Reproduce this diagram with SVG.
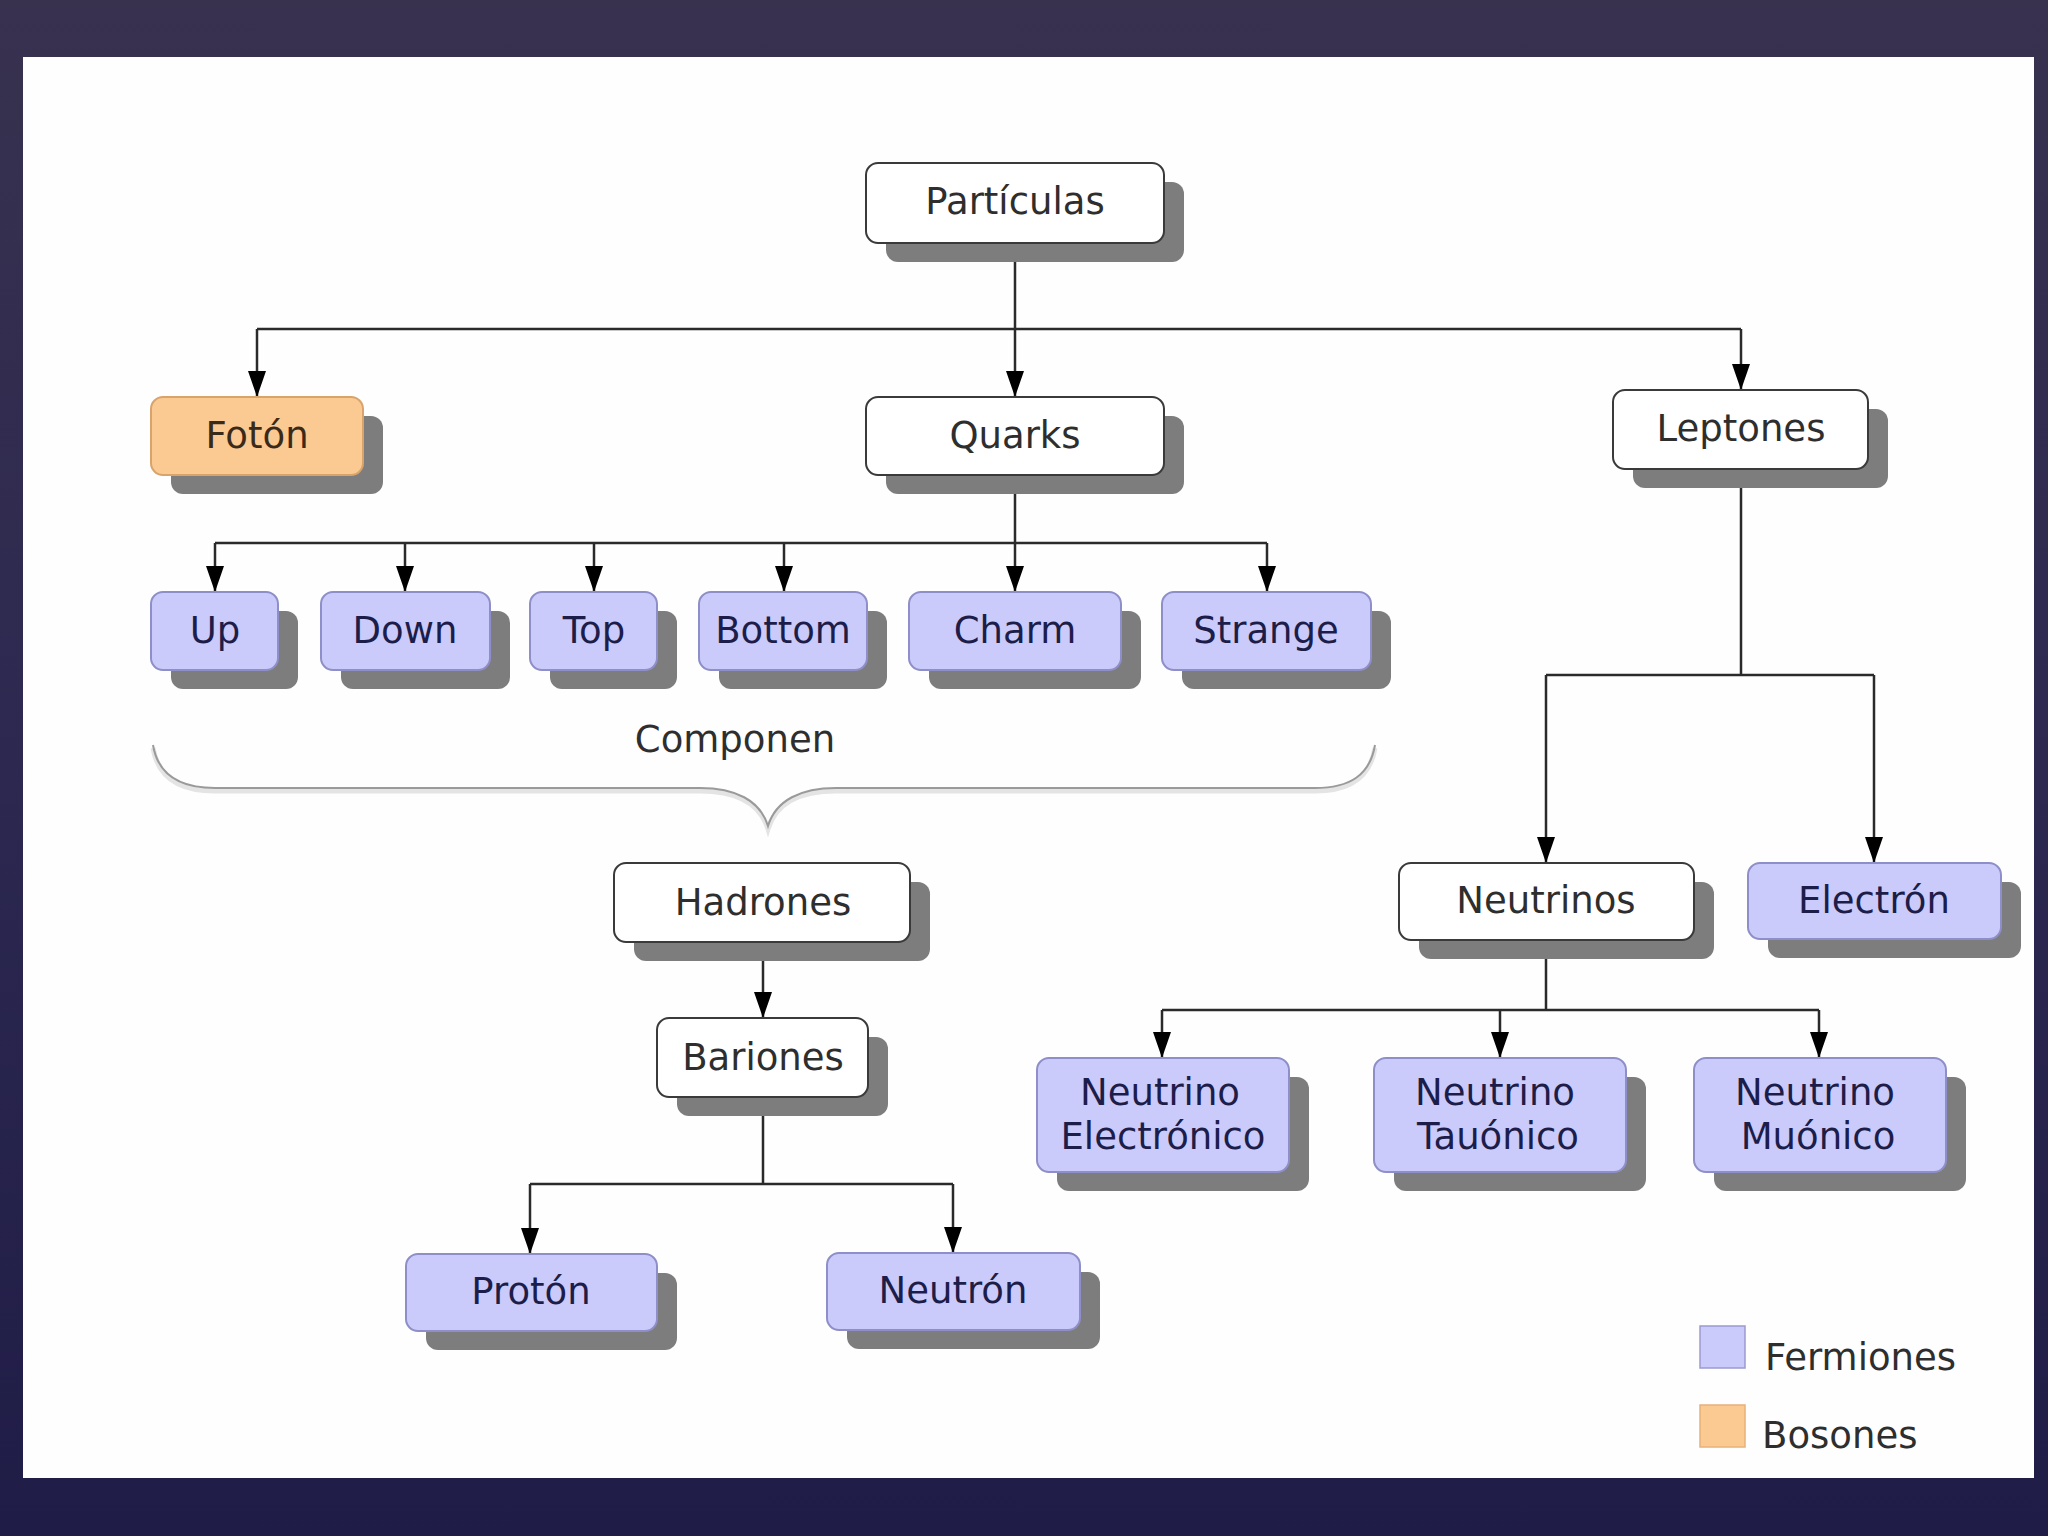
<svg xmlns="http://www.w3.org/2000/svg" width="2048" height="1536" viewBox="0 0 2048 1536">
<defs>
<linearGradient id="bg" x1="0" y1="0" x2="0" y2="1">
<stop offset="0" stop-color="#38324f"/>
<stop offset="0.5" stop-color="#2c2850"/>
<stop offset="1" stop-color="#1f1c47"/>
</linearGradient>
<marker id="arr" viewBox="0 0 26 18" refX="26" refY="9" markerWidth="26" markerHeight="18" markerUnits="userSpaceOnUse" orient="auto">
<path d="M0,0 L26,9 L0,18 Z" fill="#000"/>
</marker>
</defs>
<style>
.sh{fill:#7d7d7d}
.w{fill:#ffffff;stroke:#3a3a3a;stroke-width:2}
.f{fill:#cbcbfb;stroke:#8e8ec8;stroke-width:2}
.b{fill:#fbc992;stroke:#d9a46b;stroke-width:2}
text{font-family:"DejaVu Sans","Liberation Sans",sans-serif;font-size:37px;text-anchor:middle}
.tw{fill:#2e2e2e}
.tf{fill:#1d1d4a}
.tb{fill:#3a2a1a}
.c{fill:none;stroke:#2a2a2a;stroke-width:2.5}
.ca{fill:none;stroke:#2a2a2a;stroke-width:2.5;marker-end:url(#arr)}
</style>
<rect x="0" y="0" width="2048" height="1536" fill="url(#bg)"/>
<rect x="23" y="57" width="2011" height="1421" fill="#fefefe"/>

<g id="connectors">
<path class="c" d="M1015,243 V329 M257,329 H1741"/>
<path class="ca" d="M257,329 V397"/>
<path class="ca" d="M1015,329 V397"/>
<path class="ca" d="M1741,329 V390"/>
<path class="c" d="M1015,475 V543 M215,543 H1267"/>
<path class="ca" d="M215,543 V592"/>
<path class="ca" d="M405,543 V592"/>
<path class="ca" d="M594,543 V592"/>
<path class="ca" d="M784,543 V592"/>
<path class="ca" d="M1015,543 V592"/>
<path class="ca" d="M1267,543 V592"/>
<path class="c" d="M1741,469 V675 M1546,675 H1874"/>
<path class="ca" d="M1546,675 V863"/>
<path class="ca" d="M1874,675 V863"/>
<path class="ca" d="M763,942 V1018"/>
<path class="c" d="M763,1097 V1184 M530,1184 H953"/>
<path class="ca" d="M530,1184 V1254"/>
<path class="ca" d="M953,1184 V1253"/>
<path class="c" d="M1546,940 V1010 M1162,1010 H1819"/>
<path class="ca" d="M1162,1010 V1058"/>
<path class="ca" d="M1500,1010 V1058"/>
<path class="ca" d="M1819,1010 V1058"/>
</g>

<g id="brace">
<path d="M153,745 C158,775 180,788 215,788 L700,788 C735,788 760,800 768,826 C776,800 801,788 836,788 L1315,788 C1350,788 1370,775 1375,745" fill="none" stroke="#e4e4e4" stroke-width="5" transform="translate(0,3)"/>
<path d="M153,745 C158,775 180,788 215,788 L700,788 C735,788 760,800 768,826 C776,800 801,788 836,788 L1315,788 C1350,788 1370,775 1375,745" fill="none" stroke="#9a9a9a" stroke-width="2"/>
<text class="tw" x="735" y="752">Componen</text>
</g>

<g id="particulas"><rect class="sh" x="886" y="182" width="298" height="80" rx="12"/><rect class="w" x="866" y="163" width="298" height="80" rx="12"/><text class="tw" x="1015" y="214">Partículas</text></g>
<g id="foton"><rect class="sh" x="171" y="416" width="212" height="78" rx="12"/><rect class="b" x="151" y="397" width="212" height="78" rx="12"/><text class="tb" x="257" y="448">Fotón</text></g>
<g id="quarks"><rect class="sh" x="886" y="416" width="298" height="78" rx="12"/><rect class="w" x="866" y="397" width="298" height="78" rx="12"/><text class="tw" x="1015" y="448">Quarks</text></g>
<g id="leptones"><rect class="sh" x="1633" y="409" width="255" height="79" rx="12"/><rect class="w" x="1613" y="390" width="255" height="79" rx="12"/><text class="tw" x="1741" y="441">Leptones</text></g>

<g id="up"><rect class="sh" x="171" y="611" width="127" height="78" rx="12"/><rect class="f" x="151" y="592" width="127" height="78" rx="12"/><text class="tf" x="215" y="643">Up</text></g>
<g id="down"><rect class="sh" x="341" y="611" width="169" height="78" rx="12"/><rect class="f" x="321" y="592" width="169" height="78" rx="12"/><text class="tf" x="405" y="643">Down</text></g>
<g id="top"><rect class="sh" x="550" y="611" width="127" height="78" rx="12"/><rect class="f" x="530" y="592" width="127" height="78" rx="12"/><text class="tf" x="594" y="643">Top</text></g>
<g id="bottom"><rect class="sh" x="719" y="611" width="168" height="78" rx="12"/><rect class="f" x="699" y="592" width="168" height="78" rx="12"/><text class="tf" x="783" y="643">Bottom</text></g>
<g id="charm"><rect class="sh" x="929" y="611" width="212" height="78" rx="12"/><rect class="f" x="909" y="592" width="212" height="78" rx="12"/><text class="tf" x="1015" y="643">Charm</text></g>
<g id="strange"><rect class="sh" x="1182" y="611" width="209" height="78" rx="12"/><rect class="f" x="1162" y="592" width="209" height="78" rx="12"/><text class="tf" x="1266" y="643">Strange</text></g>

<g id="hadrones"><rect class="sh" x="634" y="882" width="296" height="79" rx="12"/><rect class="w" x="614" y="863" width="296" height="79" rx="12"/><text class="tw" x="763" y="915">Hadrones</text></g>
<g id="bariones"><rect class="sh" x="677" y="1037" width="211" height="79" rx="12"/><rect class="w" x="657" y="1018" width="211" height="79" rx="12"/><text class="tw" x="763" y="1070">Bariones</text></g>
<g id="proton"><rect class="sh" x="426" y="1273" width="251" height="77" rx="12"/><rect class="f" x="406" y="1254" width="251" height="77" rx="12"/><text class="tf" x="531" y="1304">Protón</text></g>
<g id="neutron"><rect class="sh" x="847" y="1272" width="253" height="77" rx="12"/><rect class="f" x="827" y="1253" width="253" height="77" rx="12"/><text class="tf" x="953" y="1303">Neutrón</text></g>

<g id="neutrinos"><rect class="sh" x="1419" y="882" width="295" height="77" rx="12"/><rect class="w" x="1399" y="863" width="295" height="77" rx="12"/><text class="tw" x="1546" y="913">Neutrinos</text></g>
<g id="electron"><rect class="sh" x="1768" y="882" width="253" height="76" rx="12"/><rect class="f" x="1748" y="863" width="253" height="76" rx="12"/><text class="tf" x="1874" y="913">Electrón</text></g>

<g id="nu-e"><rect class="sh" x="1057" y="1077" width="252" height="114" rx="12"/><rect class="f" x="1037" y="1058" width="252" height="114" rx="12"/><text class="tf" x="1160" y="1105">Neutrino</text><text class="tf" x="1163" y="1149">Electrónico</text></g>
<g id="nu-tau"><rect class="sh" x="1394" y="1077" width="252" height="114" rx="12"/><rect class="f" x="1374" y="1058" width="252" height="114" rx="12"/><text class="tf" x="1495" y="1105">Neutrino</text><text class="tf" x="1498" y="1149">Tauónico</text></g>
<g id="nu-mu"><rect class="sh" x="1714" y="1077" width="252" height="114" rx="12"/><rect class="f" x="1694" y="1058" width="252" height="114" rx="12"/><text class="tf" x="1815" y="1105">Neutrino</text><text class="tf" x="1818" y="1149">Muónico</text></g>

<g id="legend">
<rect x="1700" y="1326" width="45" height="42" fill="#cbcbfb" stroke="#9a9ad0" stroke-width="1.5"/>
<text class="tw" x="1765" y="1370" style="text-anchor:start">Fermiones</text>
<rect x="1700" y="1405" width="45" height="42" fill="#fbc992" stroke="#e8b07a" stroke-width="1.5"/>
<text class="tw" x="1762" y="1448" style="text-anchor:start">Bosones</text>
</g>
</svg>
